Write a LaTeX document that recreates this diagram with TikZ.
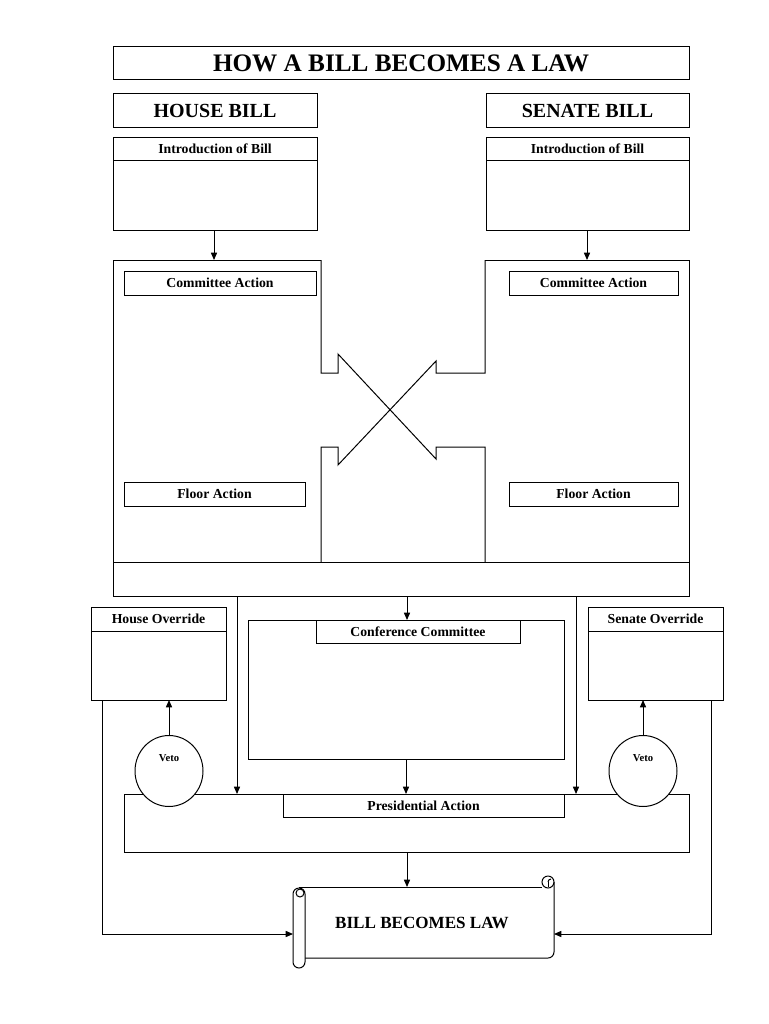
\documentclass[tikz,border=0pt]{standalone}
\usepackage{fontspec}
\setmainfont{Liberation Serif}
\usetikzlibrary{arrows.meta,shapes.geometric}
\newcommand\bx[7]{\node[box,#6,minimum width={(#4-#2)*0.75pt},minimum height={(#5-#3)*0.75pt}] (#1) at ({(#2+#4)/2},{(#3+#5)/2}) {#7};}
\begin{document}
\begin{tikzpicture}[x=0.75pt,y=-0.75pt,
  line width=0.75pt,
  box/.style={draw,inner sep=0pt,outer sep=0pt,font=\fontsize{10.3}{12}\selectfont\bfseries},
  big/.style={font=\fontsize{15}{18}\selectfont\bfseries},
  ttl/.style={font=\fontsize{18.9}{22}\selectfont\bfseries},
  arr/.style={-{Triangle[length=5.5pt,width=4.6pt]}},
  vetoc/.style={draw,fill=white,ellipse,inner sep=0pt,outer sep=0pt,minimum width={68*0.75pt},minimum height={71*0.75pt}}
]
\useasboundingbox (0,0) rectangle (768,1024);
% title and headings
\bx{title}{113}{47}{689}{80}{ttl}{HOW A BILL BECOMES A LAW}
\bx{hbill}{113}{94}{317}{127}{big}{HOUSE BILL}
\bx{sbill}{486}{94}{689}{127}{big}{SENATE BILL}
% introduction boxes
\bx{hintro}{113}{137}{317}{230}{}{}
\bx{hintroh}{113}{137}{317}{160}{}{Introduction of Bill}
\bx{sintro}{486}{137}{689}{230}{}{}
\bx{sintroh}{486}{137}{689}{160}{}{Introduction of Bill}
% frame
\coordinate (hft) at (214,260);
\coordinate (sft) at (587,260);
\draw (321,260) -- (113,260) -- (113,562);
\draw (485,260) -- (689,260) -- (689,562);
\bx{strip}{113}{562}{689}{596}{}{}
% crossing
\draw (321,260) -- (321,373) -- (338,373) -- (338,354) -- (436,459) -- (436,447) -- (485,447) -- (485,562);
\draw (485,260) -- (485,373) -- (436,373) -- (436,361) -- (338,465) -- (338,447) -- (321,447) -- (321,562);
% inner labels
\bx{hcomm}{124}{271}{316}{295}{}{Committee Action}
\bx{scomm}{509}{271}{678}{295}{}{Committee Action}
\bx{hfloor}{124}{482}{305}{506}{}{Floor Action}
\bx{sfloor}{509}{482}{678}{506}{}{Floor Action}
% overrides
\bx{hover}{91}{607}{226}{700}{}{}
\bx{hoverh}{91}{607}{226}{631}{}{House Override}
\bx{sover}{588}{607}{723}{700}{}{}
\bx{soverh}{588}{607}{723}{631}{}{Senate Override}
% conference
\bx{conf}{248}{620}{564}{759}{}{}
\bx{confh}{316}{620}{520}{643}{}{Conference Committee}
% presidential
\bx{pres}{124}{794}{689}{852}{}{}
\bx{presh}{283}{794}{564}{817}{}{Presidential Action}
% vetoes
\node[vetoc] (hveto) at (169,771) {};
\node[vetoc] (sveto) at (643,771) {};
\node[font=\fontsize{8}{9}\selectfont\bfseries] (hvetot) at (169,758) {Veto};
\node[font=\fontsize{8}{9}\selectfont\bfseries] (svetot) at (643,758) {Veto};
% scroll
\coordinate (scrL) at (293,934);
\coordinate (scrR) at (554,934);
\coordinate (scrT) at (407,887);
\draw (299,887) -- (542,887);
\draw (554,882) -- (554,952) arc (0:90:6) -- (305,958);
\draw (548,882) circle (6);
\draw (548,882) -- (548,887);
\draw (548,882) arc (180:270:3);
\draw[fill=white] (293,894) -- (293,962) arc (180:0:6) -- (305,894) arc (0:-180:6) -- cycle;
\draw (300,893) circle (4);
\node[font=\fontsize{12.8}{15}\selectfont\bfseries] (law) at (422,923) {BILL BECOMES LAW};
% connectors
\draw[arr] (hft |- hintro.south) -- (hft);
\draw[arr] (sft |- sintro.south) -- (sft);
\draw[arr] (strip.south -| 407,0) -- (conf.north -| 407,0);
\draw[arr] (strip.south -| 237,0) -- (pres.north -| 237,0);
\draw[arr] (strip.south -| 576,0) -- (pres.north -| 576,0);
\draw[arr] (conf.south -| 406,0) -- (pres.north -| 406,0);
\draw[arr] (pres.south -| scrT) -- (scrT);
\draw[arr] (hveto.north) -- (hover.south -| hveto.north);
\draw[arr] (sveto.north) -- (sover.south -| sveto.north);
\draw[arr] (hover.south -| 102,0) |- (scrL);
\draw[arr] (sover.south -| 711,0) |- (scrR);
\end{tikzpicture}
\end{document}
